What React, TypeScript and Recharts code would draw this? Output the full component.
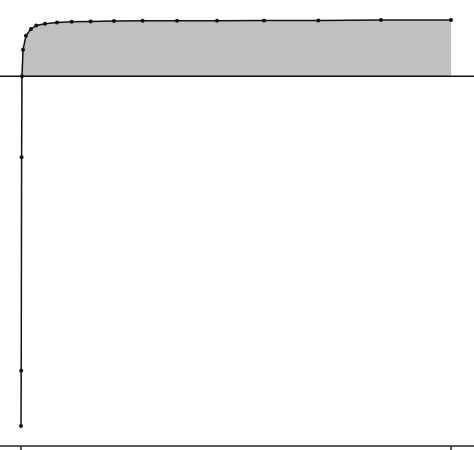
import React from "react";
import {
  ComposedChart, Area, XAxis, YAxis, ReferenceLine,
} from "recharts";

const xValues = [
  0, 0.05, 0.14, 0.23, 0.47, 1.16, 2.33, 3.56, 5.58, 8.37,
  11.77, 16.19, 21.63, 28.28, 36.28, 45.58, 56.51, 69.14, 83.72, 100,
];
const yValues = [
  -6.21, -5.23, -1.436, 0, 0.473, 0.722, 0.84, 0.904, 0.934, 0.957,
  0.97, 0.975, 0.982, 0.988, 0.988, 0.988, 0.993, 0.993, 1.0, 1.0,
];
const xTicks = [xValues[0], xValues[xValues.length - 1]];

const data = xValues.map((x, i) => ({ x, y: yValues[i] }));

export default function App() {
  return (
    <div style={{ position: "absolute", left: 0, top: 0, width: 474, height: 450, overflow: "hidden" }}>
      <ComposedChart width={474} height={450} data={data} margin={{ top: 0, right: 0, left: 0, bottom: 0 }}>
        <XAxis
          dataKey="x"
          type="number"
          domain={["dataMin", "dataMax"]}
          ticks={xTicks}
          padding={{ left: 21, right: 23 }}
          height={4}
          tickSize={4}
          tickFormatter={() => ""}
          stroke="#222"
          strokeWidth={1.5}
        />
        <YAxis hide type="number" domain={["dataMin", "dataMax"]} padding={{ top: 20, bottom: 20 }} />
        <ReferenceLine y={0} stroke="#111" strokeWidth={1.5} />
        <Area
          type="linear"
          dataKey="y"
          baseValue={0}
          fill="#c0c0c0"
          fillOpacity={1}
          stroke="#111"
          strokeWidth={1.5}
          dot={{ r: 2, fill: "#111", stroke: "#111", strokeWidth: 0 }}
          activeDot={false}
          isAnimationActive={false}
        />
      </ComposedChart>
    </div>
  );
}
